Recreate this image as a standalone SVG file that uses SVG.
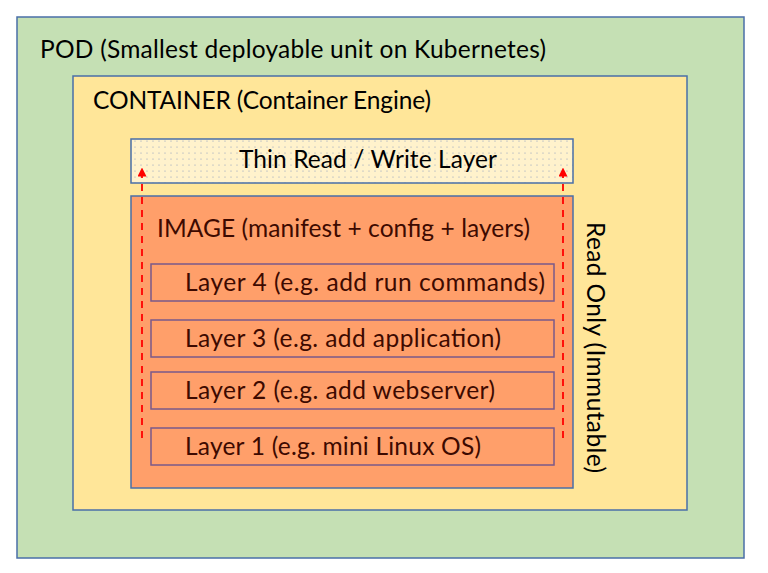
<svg xmlns="http://www.w3.org/2000/svg" width="768" height="573" viewBox="0 0 768 573">
<defs>
<pattern id="dots" width="6" height="6" patternUnits="userSpaceOnUse"><rect width="6" height="6" fill="#fff2cc"/><circle cx="3" cy="3" r="0.6" fill="#8a9bbf"/></pattern>
<marker id="ah" viewBox="0 0 10 10" refX="5" refY="5" markerWidth="5" markerHeight="5" orient="auto"><path d="M0,0L10,5L0,10z" fill="#ff0000"/></marker>
<style>
.t{font-family:Lato,"Open Sans",sans-serif;font-size:24.5px;fill:#000}
.d{fill:#3d0a00}
.box{stroke:#4a6fa8;stroke-width:1.5}
.lay{fill:#ff9f6a;stroke:#7a5a8a;stroke-width:1.5}
.c{stroke:#ff0000;stroke-width:1.8;stroke-dasharray:7,6;fill:none}
</style>
</defs>
<rect width="768" height="573" fill="#fff"/>
<g id="pod"><rect class="box" x="17" y="17" width="727" height="541" fill="#c5e0b4"/><text class="t" x="40" y="58" textLength="506">POD (Smallest deployable unit on Kubernetes)</text></g>
<g id="container"><rect class="box" x="73" y="76" width="614" height="434" fill="#ffe699"/><text class="t" x="93" y="109" textLength="338">CONTAINER (Container Engine)</text></g>
<g id="rw"><rect class="box" x="131" y="139" width="442" height="44" fill="url(#dots)"/><text class="t" x="239" y="168" textLength="258">Thin Read / Write Layer</text></g>
<g id="image"><rect class="box" x="131" y="196" width="442" height="292" fill="#ff9f6a"/><text class="t d" x="157" y="237" textLength="373">IMAGE (manifest + config + layers)</text></g>
<g id="layer4"><rect class="lay" x="151" y="264" width="403" height="37"/><text class="t d" x="185" y="291" textLength="360">Layer 4 (e.g. add run commands)</text></g>
<g id="layer3"><rect class="lay" x="151" y="320" width="403" height="37"/><text class="t d" x="185" y="347" textLength="316">Layer 3 (e.g. add application)</text></g>
<g id="layer2"><rect class="lay" x="151" y="372" width="403" height="37"/><text class="t d" x="185" y="399" textLength="310">Layer 2 (e.g. add webserver)</text></g>
<g id="layer1"><rect class="lay" x="151" y="428" width="403" height="37"/><text class="t d" x="185" y="455" textLength="296">Layer 1 (e.g. mini Linux OS)</text></g>
<g id="readonly"><text class="t" transform="translate(587,222) rotate(90)" textLength="251">Read Only (Immutable)</text></g>
<g id="connectors">
<path class="c" d="M142,438V172" marker-end="url(#ah)"/>
<path class="c" d="M563,438V172" marker-end="url(#ah)"/>
</g>
</svg>
